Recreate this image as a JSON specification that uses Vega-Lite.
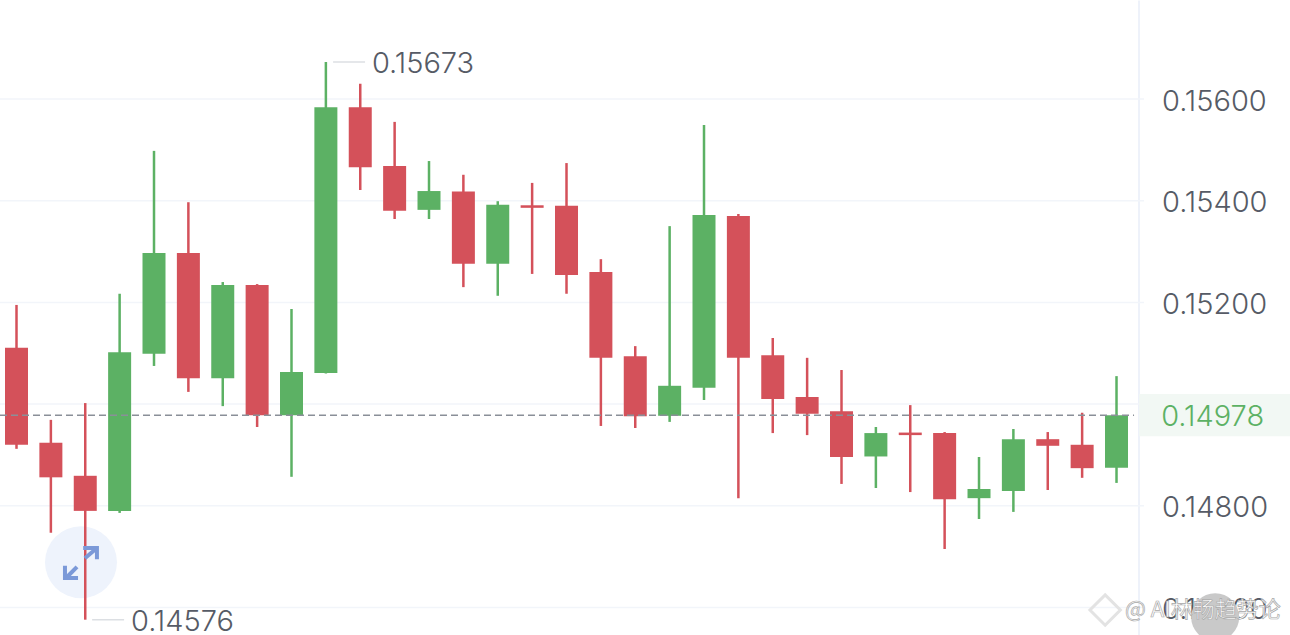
{
  "$schema": "https://vega.github.io/schema/vega-lite/v6.json",
  "width": 1290,
  "height": 635,
  "autosize": {"type": "none"},
  "padding": 0,
  "background": "#ffffff",
  "config": {"view": {"stroke": null}},
  "datasets": {
    "candles": [
      {"i": 1, "open": 0.15111, "close": 0.14920, "high": 0.15195, "low": 0.14912},
      {"i": 2, "open": 0.14924, "close": 0.14856, "high": 0.14969, "low": 0.14747},
      {"i": 3, "open": 0.14859, "close": 0.14790, "high": 0.15002, "low": 0.14576},
      {"i": 4, "open": 0.14790, "close": 0.15102, "high": 0.15217, "low": 0.14786},
      {"i": 5, "open": 0.15099, "close": 0.15297, "high": 0.15498, "low": 0.15075},
      {"i": 6, "open": 0.15297, "close": 0.15051, "high": 0.15397, "low": 0.15024},
      {"i": 7, "open": 0.15051, "close": 0.15234, "high": 0.15240, "low": 0.14996},
      {"i": 8, "open": 0.15234, "close": 0.14978, "high": 0.15236, "low": 0.14955},
      {"i": 9, "open": 0.14978, "close": 0.15063, "high": 0.15187, "low": 0.14857},
      {"i": 10, "open": 0.15061, "close": 0.15584, "high": 0.15673, "low": 0.15060},
      {"i": 11, "open": 0.15584, "close": 0.15466, "high": 0.15630, "low": 0.15421},
      {"i": 12, "open": 0.15468, "close": 0.15380, "high": 0.15555, "low": 0.15364},
      {"i": 13, "open": 0.15382, "close": 0.15419, "high": 0.15478, "low": 0.15364},
      {"i": 14, "open": 0.15418, "close": 0.15276, "high": 0.15451, "low": 0.15230},
      {"i": 15, "open": 0.15276, "close": 0.15392, "high": 0.15399, "low": 0.15213},
      {"i": 16, "open": 0.15391, "close": 0.15386, "high": 0.15435, "low": 0.15256},
      {"i": 17, "open": 0.15390, "close": 0.15254, "high": 0.15474, "low": 0.15217},
      {"i": 18, "open": 0.15260, "close": 0.15091, "high": 0.15285, "low": 0.14957},
      {"i": 19, "open": 0.15094, "close": 0.14976, "high": 0.15114, "low": 0.14953},
      {"i": 20, "open": 0.14977, "close": 0.15036, "high": 0.15350, "low": 0.14965},
      {"i": 21, "open": 0.15032, "close": 0.15372, "high": 0.15549, "low": 0.15008},
      {"i": 22, "open": 0.15370, "close": 0.15091, "high": 0.15374, "low": 0.14815},
      {"i": 23, "open": 0.15096, "close": 0.15010, "high": 0.15130, "low": 0.14943},
      {"i": 24, "open": 0.15014, "close": 0.14981, "high": 0.15091, "low": 0.14939},
      {"i": 25, "open": 0.14986, "close": 0.14896, "high": 0.15067, "low": 0.14843},
      {"i": 26, "open": 0.14897, "close": 0.14943, "high": 0.14955, "low": 0.14835},
      {"i": 27, "open": 0.14944, "close": 0.14939, "high": 0.14998, "low": 0.14827},
      {"i": 28, "open": 0.14943, "close": 0.14813, "high": 0.14945, "low": 0.14715},
      {"i": 29, "open": 0.14815, "close": 0.14833, "high": 0.14896, "low": 0.14774},
      {"i": 30, "open": 0.14829, "close": 0.14931, "high": 0.14951, "low": 0.14788},
      {"i": 31, "open": 0.14931, "close": 0.14918, "high": 0.14945, "low": 0.14831},
      {"i": 32, "open": 0.14920, "close": 0.14874, "high": 0.14983, "low": 0.14855},
      {"i": 33, "open": 0.14875, "close": 0.14978, "high": 0.15055, "low": 0.14845}
    ],
    "grid": [
      {"price": 0.156},
      {"price": 0.154},
      {"price": 0.152},
      {"price": 0.15},
      {"price": 0.148},
      {"price": 0.146}
    ],
    "extremes": [
      {"from": 10.21, "to": 11.14, "price": 0.15673, "label": "0.15673", "at": 11.34},
      {"from": 3.2, "to": 4.13, "price": 0.14576, "label": "0.14576", "at": 4.33}
    ],
    "arrows": [
      {"arrow": "a", "n": 1, "i": 2.99, "price": 0.14697},
      {"arrow": "a", "n": 2, "i": 3.34, "price": 0.14717},
      {"arrow": "b", "n": 1, "i": 2.94, "price": 0.14717},
      {"arrow": "b", "n": 2, "i": 3.34, "price": 0.14717},
      {"arrow": "b", "n": 3, "i": 3.34, "price": 0.14695},
      {"arrow": "c", "n": 1, "i": 2.76, "price": 0.1468},
      {"arrow": "c", "n": 2, "i": 2.44, "price": 0.14658},
      {"arrow": "d", "n": 1, "i": 2.41, "price": 0.14682},
      {"arrow": "d", "n": 2, "i": 2.41, "price": 0.14658},
      {"arrow": "d", "n": 3, "i": 2.79, "price": 0.14658}
    ]
  },
  "data": {"name": "candles"},
  "layer": [
    {
      "data": {"name": "grid"},
      "mark": {"type": "rule", "stroke": "#f2f5fa", "strokeWidth": 1.5},
      "encoding": {
        "y": {
          "field": "price",
          "type": "quantitative",
          "title": null,
          "scale": {"domain": [0.145459, 0.157947], "nice": false, "zero": false},
          "axis": {
            "orient": "right",
            "offset": -151.5,
            "values": [0.146, 0.148, 0.15, 0.152, 0.154, 0.156],
            "format": ".5f",
            "grid": false,
            "ticks": false,
            "domainColor": "#e8eef8",
            "domainWidth": 1.5,
            "labelPadding": 23,
            "labelOffset": 2,
            "labelFont": "Inter",
            "labelFontSize": 29,
            "labelFontWeight": 300,
            "labelColor": "#565b66"
          }
        },
        "x": {
          "datum": 0.52,
          "type": "quantitative",
          "scale": {"domain": [0.52, 38.047], "nice": false, "zero": false, "padding": 0},
          "axis": null
        },
        "x2": {"datum": 33.8}
      }
    },
    {
      "data": {"values": [{"i": 2.876, "price": 0.14689}]},
      "mark": {"type": "point", "shape": "circle", "filled": true, "size": 5184, "fill": "#eef3fc", "opacity": 1},
      "encoding": {
        "x": {"field": "i", "type": "quantitative"},
        "y": {"field": "price", "type": "quantitative"}
      }
    },
    {
      "mark": {"type": "rule", "strokeWidth": 2.5},
      "encoding": {
        "x": {"field": "i", "type": "quantitative"},
        "y": {"field": "low", "type": "quantitative"},
        "y2": {"field": "high"},
        "color": {"condition": {"test": "datum.close >= datum.open", "value": "#5cb164"}, "value": "#d4515a"}
      }
    },
    {
      "mark": {"type": "bar", "size": 23},
      "encoding": {
        "x": {"field": "i", "type": "quantitative"},
        "y": {"field": "open", "type": "quantitative"},
        "y2": {"field": "close"},
        "color": {"condition": {"test": "datum.close >= datum.open", "value": "#5cb164"}, "value": "#d4515a"}
      }
    },
    {
      "data": {"values": [{"price": 0.14978}]},
      "mark": {"type": "rule", "stroke": "#8a8f98", "strokeWidth": 1.5, "strokeDash": [7, 4]},
      "encoding": {
        "y": {"field": "price", "type": "quantitative"},
        "x": {"datum": 0.52, "type": "quantitative"},
        "x2": {"datum": 33.51}
      }
    },
    {
      "data": {"values": [{"from": 33.66, "to": 38.047, "top": 0.1502, "bottom": 0.14937}]},
      "mark": {"type": "rect", "fill": "#f2f8f4"},
      "encoding": {
        "x": {"field": "from", "type": "quantitative"},
        "x2": {"field": "to"},
        "y": {"field": "top", "type": "quantitative"},
        "y2": {"field": "bottom"}
      }
    },
    {
      "data": {"values": [{"at": 34.3, "price": 0.14978, "label": "0.14978"}]},
      "mark": {"type": "text", "align": "left", "baseline": "middle", "dy": 2, "font": "Inter", "fontSize": 29, "fontWeight": 300, "fill": "#5cb164"},
      "encoding": {
        "x": {"field": "at", "type": "quantitative"},
        "y": {"field": "price", "type": "quantitative"},
        "text": {"field": "label"}
      }
    },
    {
      "data": {"name": "extremes"},
      "mark": {"type": "rule", "stroke": "#dcdfe3", "strokeWidth": 1.5},
      "encoding": {
        "x": {"field": "from", "type": "quantitative"},
        "x2": {"field": "to"},
        "y": {"field": "price", "type": "quantitative"}
      }
    },
    {
      "data": {"name": "extremes"},
      "mark": {"type": "text", "align": "left", "baseline": "middle", "dy": 2, "font": "Inter", "fontSize": 29, "fontWeight": 300, "fill": "#565b66"},
      "encoding": {
        "x": {"field": "at", "type": "quantitative"},
        "y": {"field": "price", "type": "quantitative"},
        "text": {"field": "label"}
      }
    },
    {
      "data": {"name": "arrows"},
      "mark": {"type": "line", "stroke": "#7b99d8", "strokeWidth": 4, "interpolate": "linear"},
      "encoding": {
        "x": {"field": "i", "type": "quantitative"},
        "y": {"field": "price", "type": "quantitative"},
        "detail": {"field": "arrow"},
        "order": {"field": "n"}
      }
    },
    {
      "data": {"values": [{"i": 35.87, "price": 0.14581}]},
      "mark": {"type": "point", "shape": "circle", "filled": true, "size": 2304, "fill": "#c9c9c9", "opacity": 1},
      "encoding": {
        "x": {"field": "i", "type": "quantitative"},
        "y": {"field": "price", "type": "quantitative"}
      }
    },
    {
      "data": {"values": [{"i": 32.67, "price": 0.14595}]},
      "mark": {"type": "point", "shape": "diamond", "filled": false, "size": 925, "stroke": "#e3e3e3", "strokeWidth": 3, "opacity": 1},
      "encoding": {
        "x": {"field": "i", "type": "quantitative"},
        "y": {"field": "price", "type": "quantitative"}
      }
    },
    {
      "data": {"values": [{"at": 33.25, "price": 0.14595, "label": "@ AI林畅趋势论"}]},
      "mark": {"type": "text", "align": "left", "baseline": "middle", "font": "Noto Sans CJK SC", "fontSize": 22, "fill": "#ffffff", "stroke": "#a8a8a8", "strokeWidth": 0.7},
      "encoding": {
        "x": {"field": "at", "type": "quantitative"},
        "y": {"field": "price", "type": "quantitative"},
        "text": {"field": "label"}
      }
    }
  ]
}
